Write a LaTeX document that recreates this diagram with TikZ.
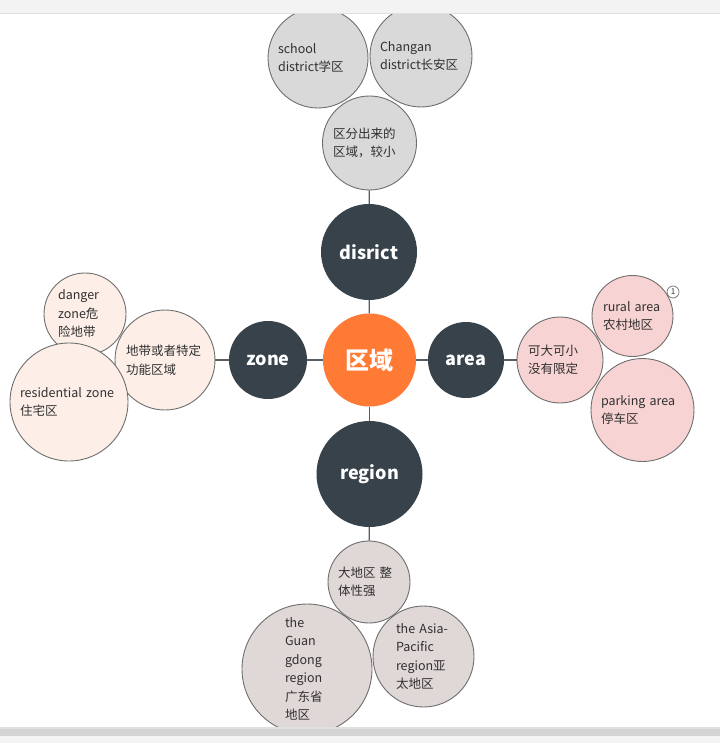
\documentclass[tikz,border=0pt]{standalone}
\usepackage{fontspec}
\setmainfont{Noto Sans CJK SC}
\usepackage{tikz}
\usetikzlibrary{positioning,calc}

\definecolor{hubdark}{HTML}{37424A}
\definecolor{hubcore}{HTML}{FF7A35}
\definecolor{leafgray}{HTML}{D9D9D9}
\definecolor{leafpeach}{HTML}{FDEFE8}
\definecolor{leafpink}{HTML}{F8D3D3}
\definecolor{leafmauve}{HTML}{DFD8D6}
\definecolor{rim}{HTML}{6E6E6E}
\definecolor{inktext}{HTML}{303030}
\definecolor{barlight}{HTML}{F3F3F3}
\definecolor{barline}{HTML}{E0E0E0}
\definecolor{bargray}{HTML}{D4D4D4}

\begin{document}
\begin{tikzpicture}[
  x=1pt, y=-1pt,
  leaf/.style={circle, draw=rim, line width=0.9pt, inner sep=0pt,
               align=left, text=inktext, text width=#1,
               font=\fontsize{12.5}{18.5}\selectfont},
  hub/.style={circle, fill=hubdark, inner sep=0pt, text=white,
              font=\fontsize{18}{20}\selectfont\bfseries},
  link/.style={draw=hubdark!85, line width=1.4pt}
]
  \useasboundingbox (0,0) rectangle (720,743);

  % centre and the four branches
  \node[circle, fill=hubcore, inner sep=0pt, minimum size=93pt, text=white,
        font=\fontsize{24}{26}\selectfont\bfseries] (core) at (369.5,360) {区域};
  \node[hub, minimum size=96pt]  (disrict) at (369,252) {disrict};
  \node[hub, minimum size=78pt]  (zone)    at (268,360) {zone};
  \node[hub, minimum size=76pt]  (area)    at (466,360) {area};
  \node[hub, minimum size=106pt] (region)  at (369.5,474) {region};

  % disrict
  \node[leaf=73pt, fill=leafgray, minimum size=94pt]  (disdef)  at (369.5,143) {区分出来的\\区域，较小};
  \node[leaf=80pt, fill=leafgray, minimum size=100pt] (school)  at (318,58) {school\\district学区};
  \node[leaf=82pt, fill=leafgray, minimum size=102pt] (changan) at (421,56) {Changan\\district长安区};

  % zone
  \node[leaf=78pt, fill=leafpeach, minimum size=100pt] (zonedef) at (165,360) {地带或者特定\\功能区域};
  \node[leaf=54pt, fill=leafpeach, minimum size=82pt]  (danger)  at (85,314) {danger\\zone危\\险地带};
  \node[leaf=98pt, fill=leafpeach, minimum size=118pt] (resid)   at (69,402) {residential zone\\住宅区};

  % area
  \node[leaf=64pt, fill=leafpink, minimum size=86pt]  (areadef) at (560,360) {可大可小\\没有限定};
  \node[leaf=59pt, fill=leafpink, minimum size=81pt]  (rural)   at (632.5,316) {rural area\\农村地区};
  \node[leaf=83pt, fill=leafpink, minimum size=103pt] (parking) at (642.5,410) {parking area\\停车区};
  \node[circle, draw=rim, fill=white, line width=0.7pt, minimum size=12pt,
        inner sep=0pt, text=inktext, font=\fontsize{8}{8}\selectfont] (badge) at (673,292) {1};

  % region
  \node[leaf=62pt, fill=leafmauve, minimum size=82pt]  (regdef) at (369,582) {大地区 整\\体性强};
  \node[leaf=44pt, fill=leafmauve, minimum size=130pt] (guangdong) at (307,669)
    {the\\Guan\\gdong\\region\\广东省\\地区};
  \node[leaf=55pt, fill=leafmauve, minimum size=101pt] (asia) at (423.5,656.5)
    {the Asia-\\Pacific\\region亚\\太地区};

  \draw[link] (disdef) -- (disrict);
  \draw[link] (disrict) -- (core);
  \draw[link] (core) -- (region);
  \draw[link] (region) -- (regdef);
  \draw[link] (zonedef) -- (zone);
  \draw[link] (zone) -- (core);
  \draw[link] (core) -- (area);
  \draw[link] (area) -- (areadef);

  % window bars over the canvas
  \fill[barlight] (0,0) rectangle (720,13);
  \fill[barline] (0,13) rectangle (720,14.5);
  \fill[barline] (0,727) rectangle (720,728.5);
  \fill[bargray] (0,728.5) rectangle (720,736);
  \fill[barlight] (0,736) rectangle (720,743);
\end{tikzpicture}
\end{document}
